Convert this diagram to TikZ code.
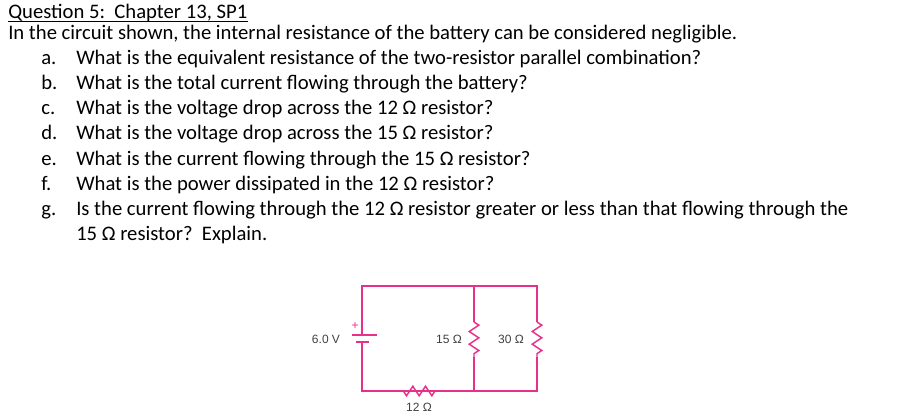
\documentclass[tikz,border=0pt]{standalone}
\usepackage{fontspec}
\setmainfont{Carlito}
\newfontfamily\arialf{Liberation Sans}
\usetikzlibrary{decorations.pathmorphing}
\definecolor{wire}{HTML}{E8308A}
\begin{document}
\begin{tikzpicture}[x=0.75pt,y=-0.75pt,
 txt/.style={anchor=base west,inner sep=0pt,font=\fontsize{15.5}{17}\selectfont},
 lab/.style={inner sep=0pt,font=\arialf\fontsize{9}{10}\selectfont,text=black!75},
 w/.style={draw=wire,line width=1.1pt},
 res/.style={w,decorate,decoration={zigzag,segment length=9.5pt,amplitude=3.6pt}}]
\useasboundingbox (0,0) rectangle (917,416);
\node[txt] (t0) at (8,19) {Question 5:\ \ Chapter 13, SP1};
\draw[line width=0.7pt] ([yshift=-1.6pt]t0.base west) -- ([yshift=-1.6pt]t0.base east);
\node[txt] (t1) at (8,40) {In the circuit shown, the internal resistance of the battery can be considered negligible.};
\node[txt] (a) at (41,65) {a.}; \node[txt] (ta) at (76,65) {What is the equivalent resistance of the two-resistor parallel combination?};
\node[txt] (b) at (41,90) {b.}; \node[txt] (tb) at (76,90) {What is the total current flowing through the battery?};
\node[txt] (c) at (41,115) {c.}; \node[txt] (tc) at (76,115) {What is the voltage drop across the 12 Ω resistor?};
\node[txt] (d) at (41,140) {d.}; \node[txt] (td) at (76,140) {What is the voltage drop across the 15 Ω resistor?};
\node[txt] (e) at (41,166) {e.}; \node[txt] (te) at (76,166) {What is the current flowing through the 15 Ω resistor?};
\node[txt] (f) at (41,191) {f.}; \node[txt] (tf) at (76,191) {What is the power dissipated in the 12 Ω resistor?};
\node[txt] (g) at (41,216) {g.}; \node[txt] (tg) at (76,216) {Is the current flowing through the 12 Ω resistor greater or less than that flowing through the};
\node[txt] (tg2) at (76,241) {15 Ω resistor?\ \ Explain.};
% circuit
\coordinate (TL) at (362,286); \coordinate (TM) at (474,286); \coordinate (TR) at (537,286);
\coordinate (BL) at (362,391); \coordinate (BM) at (474,391); \coordinate (BR) at (537,391);
\coordinate (bt) at (362,335); \coordinate (bb) at (362,342);
\draw[w] (bt) -- (TL) -- (TR) -- (537,322);
\draw[res] (537,322) -- (537,357);
\draw[w] (537,357) -- (BR) -- (BM) -- (402,391);
\draw[res] (435,391) -- (402,391);
\draw[w] (402,391) -- (BL) -- (bb);
\draw[w] (TM) -- (474,322); \draw[res] (474,322) -- (474,357); \draw[w] (474,357) -- (BM);
\draw[w] (352,335) -- (377,335);
\draw[w,line width=1.6pt] (356,342) -- (369,342);
\node[lab,text=wire] (plus) at (355,326) {+};
\node[lab] (v) at (326,339) {6.0 V};
\node[lab] (r15) at (449,339) {15 Ω};
\node[lab] (r30) at (511,339) {30 Ω};
\node[lab] (r12) at (419,407) {12 Ω};
\end{tikzpicture}
\end{document}
